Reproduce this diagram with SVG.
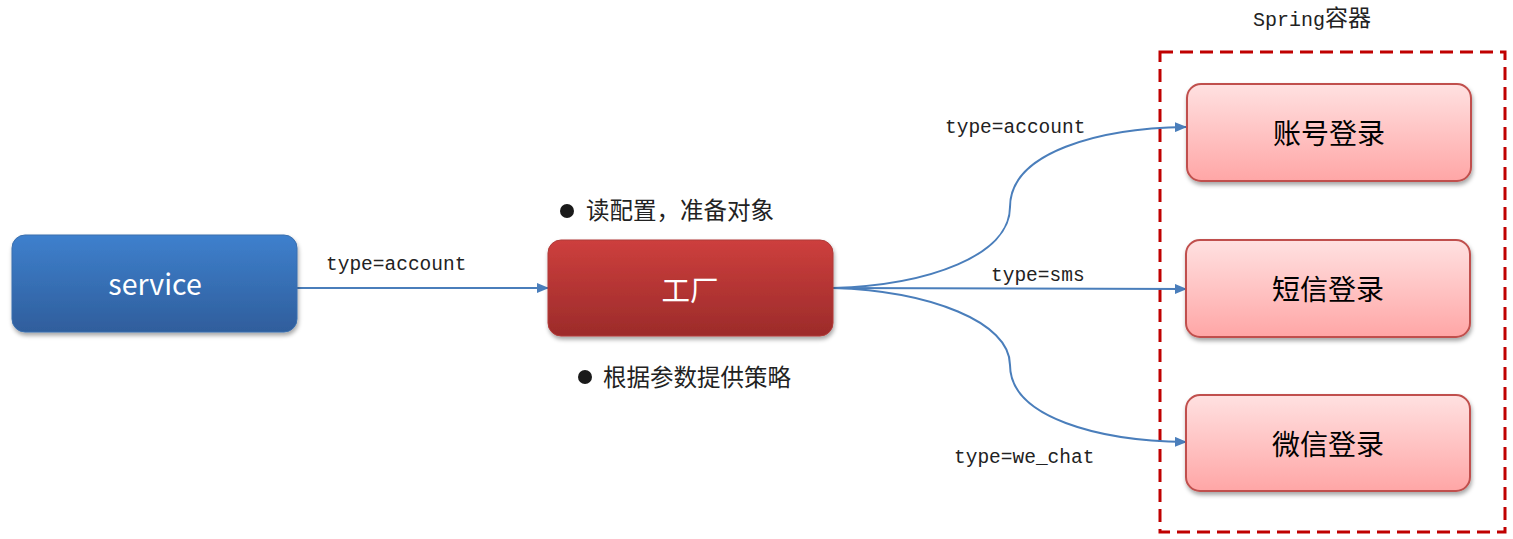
<svg xmlns="http://www.w3.org/2000/svg" width="1513" height="539" viewBox="0 0 1513 539">
<style>
.lbl{font-family:"Liberation Mono","Noto Sans CJK SC",monospace;font-size:19.5px;fill:#222}
.bt{font-family:"Noto Sans CJK SC",sans-serif;font-size:23.5px;fill:#222}
.wt{font-family:"Noto Sans CJK SC","Open Sans",sans-serif;font-size:28.5px;fill:#fff;text-anchor:middle;dominant-baseline:central}
.bk{font-family:"Noto Sans CJK SC",sans-serif;font-size:28px;fill:#000;text-anchor:middle;dominant-baseline:central}
.pink{fill:url(#gPink);stroke:#c0504d;stroke-width:2;filter:url(#sh)}
.con{fill:none;stroke:#4a7ebb;stroke-width:2;marker-end:url(#arr)}
</style>
<defs>
<linearGradient id="gBlue" x1="0" y1="0" x2="0" y2="1"><stop offset="0" stop-color="#3e80cd"/><stop offset="1" stop-color="#2f5e9c"/></linearGradient>
<linearGradient id="gRed" x1="0" y1="0" x2="0" y2="1"><stop offset="0" stop-color="#cd3f3d"/><stop offset="1" stop-color="#9c2b2a"/></linearGradient>
<linearGradient id="gPink" x1="0" y1="0" x2="0" y2="1"><stop offset="0" stop-color="#ffe1e1"/><stop offset="1" stop-color="#ffa6a6"/></linearGradient>
<filter id="sh" x="-10%" y="-10%" width="120%" height="130%"><feDropShadow dx="1" dy="3" stdDeviation="2" flood-color="#000" flood-opacity="0.35"/></filter>
<marker id="arr" markerWidth="12" markerHeight="10" refX="11" refY="5" orient="auto" markerUnits="userSpaceOnUse"><path d="M0,0 L12,5 L0,10 Z" fill="#4a7ebb"/></marker>
</defs>
<text class="lbl" x="1253" y="26" style="font-size:20px">Spring<tspan style="font-size:23px">容器</tspan></text>
<rect x="1160" y="52" width="345" height="480" fill="none" stroke="#c00000" stroke-width="3" stroke-dasharray="13,7"/>
<g id="connectors">
<path class="con" d="M297,288 L548,288"/>
<path class="con" d="M833,288 L1186,289"/>
<path class="con" d="M833,288 C930,285 1010,255 1010,207 C1010,152 1100,128 1186,127"/>
<path class="con" d="M833,288 C930,291 1010,322 1010,365 C1010,418 1100,441 1186,442"/>
<text class="lbl" x="326" y="270">type=account</text>
<text class="lbl" x="945" y="133">type=account</text>
<text class="lbl" x="991" y="281">type=sms</text>
<text class="lbl" x="954" y="463">type=we_chat</text>
</g>
<g id="service">
<rect x="12" y="235" width="285" height="97" rx="13" fill="url(#gBlue)" stroke="#3a6fae" stroke-width="1" filter="url(#sh)"/>
<text class="wt" x="155" y="282">service</text>
</g>
<g id="factory">
<rect x="548" y="240" width="285" height="96" rx="13" fill="url(#gRed)" stroke="#b03a38" stroke-width="1" filter="url(#sh)"/>
<text class="wt" x="690" y="288">工厂</text>
</g>
<g id="note1">
<circle cx="567" cy="211" r="7" fill="#1a1a1a"/>
<text class="bt" x="586" y="219">读配置，准备对象</text>
</g>
<g id="note2">
<circle cx="585" cy="377" r="7" fill="#1a1a1a"/>
<text class="bt" x="603" y="386">根据参数提供策略</text>
</g>
<g id="account">
<rect class="pink" x="1187" y="84" width="284" height="97" rx="14"/>
<text class="bk" x="1329" y="132">账号登录</text>
</g>
<g id="sms">
<rect class="pink" x="1186" y="240" width="284" height="97" rx="14"/>
<text class="bk" x="1328" y="288">短信登录</text>
</g>
<g id="wechat">
<rect class="pink" x="1186" y="395" width="284" height="96" rx="14"/>
<text class="bk" x="1328" y="443">微信登录</text>
</g>
</svg>
